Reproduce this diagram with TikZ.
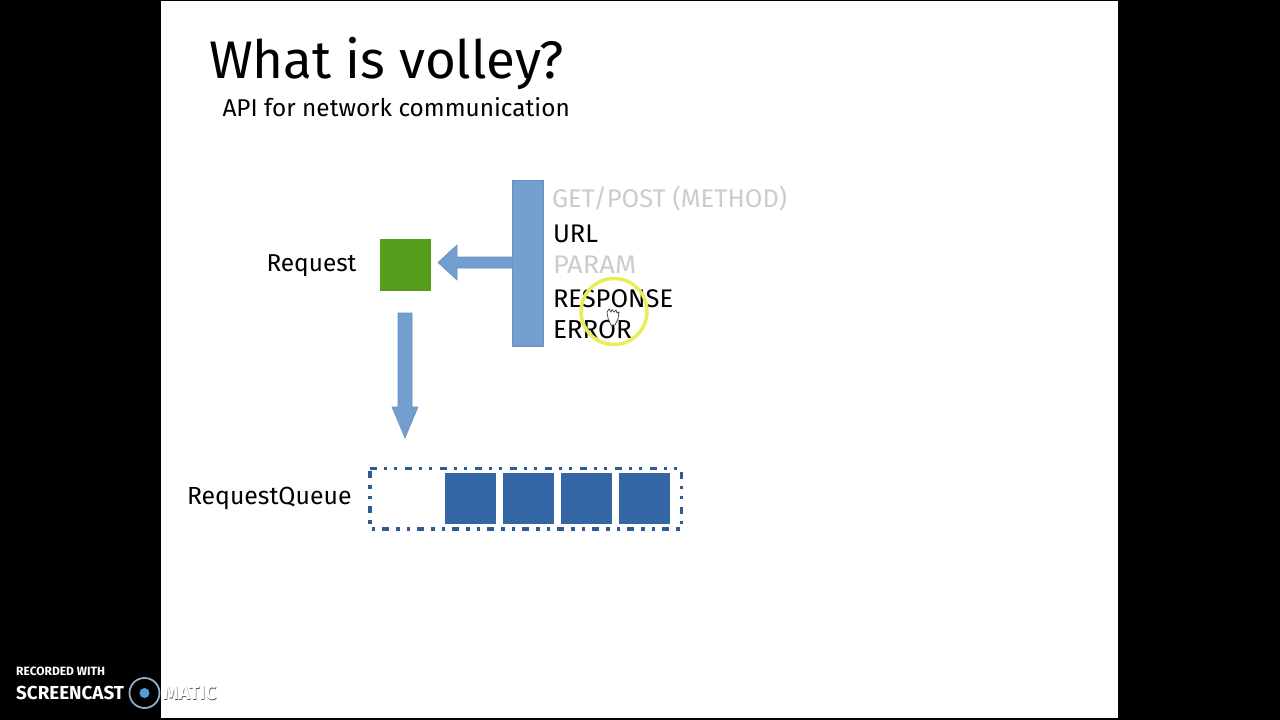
\documentclass[tikz,border=0pt]{standalone}
\usepackage{fontspec}
\setmainfont{Fira Sans}
\usetikzlibrary{calc}
\definecolor{barblue}{HTML}{729FCF}
\definecolor{arrowedge}{HTML}{6A90BE}
\definecolor{boxgreen}{HTML}{579D1C}
\definecolor{queueblue}{HTML}{3465A4}
\definecolor{queueline}{HTML}{2F5A94}
\definecolor{fadedtext}{HTML}{CCCCCC}
\definecolor{ringyellow}{HTML}{EAEE55}
\definecolor{badgering}{HTML}{8FAFC8}
\definecolor{badgedot}{HTML}{4F9FDC}
\tikzset{
  lbl/.style={anchor=base west,inner sep=0pt,outer sep=0pt,font=\fontsize{25.5}{28}\selectfont,text=black},
  faded/.style={lbl,text=fadedtext},
  slot/.style={fill=queueblue,draw=none,minimum width=51pt,minimum height=51pt,inner sep=0pt,anchor=north west},
  blockarrow/.style={fill=barblue,draw=arrowedge,line width=.6pt,line join=miter},
  queueedge/.style={draw=queueline,line width=3.4pt,dash pattern=on 6.7pt off 7pt on 3.3pt off 7pt on 3.3pt off 7.7pt}
}
\begin{document}
\begin{tikzpicture}[x=1pt,y=-1pt]
\useasboundingbox (0,0) rectangle (1280,720);
\fill[black] (0,0) rectangle (1280,720);
\fill[white] (161,1) rectangle (1117.5,718);
% title
\node[lbl,font=\fontsize{52.9}{56}\selectfont] (title) at (209,78.5) {What is volley?};
\node[lbl,font=\fontsize{24.35}{28}\selectfont] (subtitle) at (222.5,116) {API for network communication};
% bar and request
\node[lbl,font=\fontsize{24.4}{28}\selectfont] (request) at (266.5,271) {Request};
\node[fill=boxgreen,minimum width=51pt,minimum height=52pt,inner sep=0pt,anchor=north west] (reqbox) at (380,239) {};
\node[fill=barblue,draw=arrowedge,line width=.6pt,minimum width=31pt,minimum height=166pt,inner sep=0pt,outer sep=0pt,anchor=north west] (bar) at (512,180) {};
% arrow from the bar to the request
\coordinate (lefttip) at (438,262.5);
\draw[blockarrow] (bar.west |- 0,257) -- (457,257) -- (457,245) -- (lefttip) -- (457,280) -- (457,268) -- (bar.west |- 0,268);
% arrow from the request down to the queue
\coordinate (downtip) at (405,438);
\draw[blockarrow] (398,313) -- (412,313) -- (412,407) -- (418,407) -- (downtip) -- (392,407) -- (398,407) -- cycle;
% texts beside the bar
\node[faded] (method) at (552,207) {GET/POST (METHOD)};
\node[lbl] (url) at (553,242) {URL};
\node[faded] (param) at (553,273.5) {\scalebox{1.07}[1]{PARAM}};
\node[lbl] (response) at (553,307.5) {RESPONSE};
\node[lbl,font=\fontsize{26}{28}\selectfont] (error) at (553,338.5) {ERROR};
% queue
\node[lbl,font=\fontsize{24.8}{28}\selectfont] (queuelabel) at (187,504.5) {RequestQueue};
\node[slot] (q1) at (445,473) {};
\node[slot] (q2) at (503,473) {};
\node[slot] (q3) at (561,473) {};
\node[slot] (q4) at (619,473) {};
\draw[queueedge] (370,468.5) -- (681.5,468.5) -- (681.5,529) -- (370,529) -- cycle;
% cursor highlight
\draw[ringyellow,line width=3.5pt] (614,311.5) circle (33);
\fill[white] (607,312) -- (609,309) -- (611,312) -- (612,309.5) -- (614,312) -- (616,310) -- (617,313) -- (619,312) -- (618,319) -- (615,325) -- (611,325) -- (608,318) -- cycle;
\draw[black!75,line width=.7pt] (607,312) -- (609,309) -- (611,312) -- (612,309.5) -- (614,312) -- (616,310) -- (617,313) -- (619,312) -- (618,319) -- (615,325) -- (611,325) -- (608,318) -- cycle;
% recorder badge
\node[anchor=base west,inner sep=0pt,text=white,font=\bfseries\fontsize{12}{14}\selectfont] (rec) at (16,675.5) {RECORDED WITH};
\node[anchor=base west,inner sep=0pt,text=white,font=\bfseries\fontsize{18.8}{20}\selectfont] (cast) at (16,699.5) {SCREENCAST};
\fill[black] (144.5,693) circle (16.5);
\draw[badgering,line width=1.8pt] (144.5,693) circle (15);
\fill[badgedot] (144.5,693) circle (5);
\node[anchor=base west,inner sep=0pt,text=black!65,font=\bfseries\fontsize{19.5}{20}\selectfont] (maticb) at (163.5,700.5) {MATIC};
\node[anchor=base west,inner sep=0pt,text=white,font=\bfseries\fontsize{19.5}{20}\selectfont] (matic) at (163,699.5) {MATIC};
\end{tikzpicture}
\end{document}
